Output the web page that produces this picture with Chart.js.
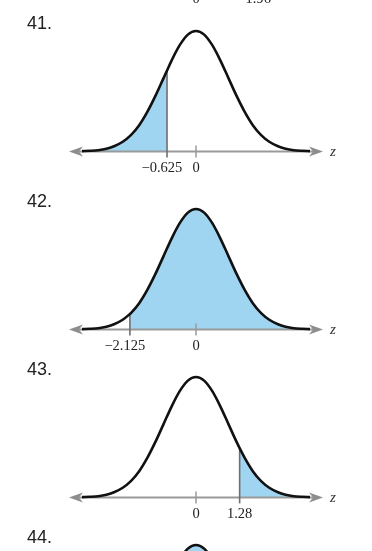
<!DOCTYPE html>
<html>
<head>
<meta charset="utf-8">
<script src="https://cdn.jsdelivr.net/npm/chart.js@4.4.1/dist/chart.umd.min.js"></script>
<style>
  body { margin: 0; background: #fff; width: 372px; height: 551px; overflow: hidden; position: relative; }
  canvas { position: absolute; left: 0; }
  .num { position: absolute; left: 27px; font: 18px/18px "Liberation Sans", Arial, sans-serif; color: #222; }
</style>
</head>
<body>
<script>
// standard normal curve
const zGrid = [-3.5, -3.25, -3, -2.75, -2.5, -2.25, -2, -1.75, -1.5, -1.25, -1, -0.75, -0.5, -0.25, 0,
               0.25, 0.5, 0.75, 1, 1.25, 1.5, 1.75, 2, 2.25, 2.5, 2.75, 3, 3.25, 3.5];
const density = [0.001, 0.002, 0.004, 0.009, 0.018, 0.032, 0.054, 0.086, 0.130, 0.183, 0.242, 0.301, 0.352, 0.387, 0.399,
                 0.387, 0.352, 0.301, 0.242, 0.183, 0.130, 0.086, 0.054, 0.032, 0.018, 0.009, 0.004, 0.002, 0.001];

const panelNames = ['40.', '41.', '42.', '43.', '44.'];
// where the cut lines sit on each curve, and the curve height there
const cutAt = [[1.91], [-0.89], [-2.03], [1.34], [-1.5, 1.5]];
const cutHeight = [[0.064], [0.268], [0.051], [0.163], [0.130, 0.130]];
const shadeFrom = [1.91, -3.5, -2.03, 1.34, -1.5];
const shadeTo = [3.5, -0.89, 3.5, 3.5, 1.5];
// tick positions and their printed labels
const tickAt = [[0, 1.91], [-0.89, 0], [-2.03, 0], [0, 1.34], [-1.5, 0, 1.5]];
const tickText = [['0', '1.96'], ['\u22120.625', '0'], ['\u22122.125', '0'], ['0', '1.28'], ['', '0', '']];

// layout: y of each horizontal axis on the page
const axisY = [-18, 151, 329, 497, 665];

const BLUE = '#9fd5f1';
const AXIS = '#9a9a9a';

function curveFor(p) {
  const pts = zGrid.map((z, k) => ({x: z, y: density[k]}));
  cutAt[p].forEach((c, k) => {
    if (!pts.some(q => Math.abs(q.x - c) < 1e-6)) pts.push({x: c, y: cutHeight[p][k]});
  });
  pts.sort((a, b) => a.x - b.x);
  return pts;
}

// negative labels hang the minus sign to the left of the tick
function tickLabel(s) {
  return s.charAt(0) === '\u2212' ? s + '\u2002\u2009' : s;
}

const axisPlugin = {
  id: 'axisPlugin',
  afterDatasetDraw(chart, args) {
    if (args.index !== 1) return;
    const ctx = chart.ctx;
    const xs = chart.scales.x;
    const ys = chart.scales.y;
    const y0 = ys.getPixelForValue(0);
    const L = chart.chartArea.left, R = chart.chartArea.right;
    const p = chart.options.plugins.axisPlugin.panel;
    ctx.save();
    // axis line
    ctx.strokeStyle = AXIS;
    ctx.lineWidth = 2;
    ctx.beginPath();
    ctx.moveTo(L + 6, y0);
    ctx.lineTo(R - 6, y0);
    ctx.stroke();
    // arrow heads
    ctx.fillStyle = '#8d8d8d';
    ctx.beginPath();
    ctx.moveTo(L, y0); ctx.lineTo(L + 14, y0 - 5); ctx.lineTo(L + 10, y0); ctx.lineTo(L + 14, y0 + 5);
    ctx.closePath(); ctx.fill();
    ctx.beginPath();
    ctx.moveTo(R, y0); ctx.lineTo(R - 14, y0 - 5); ctx.lineTo(R - 10, y0); ctx.lineTo(R - 14, y0 + 5);
    ctx.closePath(); ctx.fill();
    // tick at zero
    const x0 = xs.getPixelForValue(0);
    ctx.lineWidth = 1.5;
    ctx.beginPath();
    ctx.moveTo(x0, y0 - 6); ctx.lineTo(x0, y0 + 6);
    ctx.stroke();
    // cut lines up to the curve
    const meta = chart.getDatasetMeta(0);
    const pts = chart.data.datasets[0].data;
    ctx.strokeStyle = '#6f6f6f';
    ctx.lineWidth = 1.6;
    cutAt[p].forEach(c => {
      const el = meta.data[pts.findIndex(d => Math.abs(d.x - c) < 1e-6)];
      const xc = xs.getPixelForValue(c);
      ctx.beginPath();
      ctx.moveTo(xc, y0 + 6);
      ctx.lineTo(xc, el.y);
      ctx.stroke();
    });
    // axis name
    ctx.fillStyle = '#333';
    ctx.font = 'italic 15px "Liberation Serif", "Times New Roman", serif';
    ctx.textAlign = 'left';
    ctx.textBaseline = 'middle';
    ctx.fillText('z', R + 7, y0 + 1);
    ctx.restore();
  }
};

panelNames.forEach((name, p) => {
  const cv = document.createElement('canvas');
  cv.width = 372; cv.height = 180;
  cv.style.top = (axisY[p] - 140) + 'px';
  document.body.appendChild(cv);

  const lbl = document.createElement('div');
  lbl.className = 'num';
  lbl.textContent = name;
  lbl.style.top = (axisY[p] - 137) + 'px';
  document.body.appendChild(lbl);

  const data = curveFor(p);
  new Chart(cv.getContext('2d'), {
    type: 'line',
    data: {
      datasets: [{
        data: data,
        borderColor: '#111',
        borderWidth: 2.6,
        pointRadius: 0,
        cubicInterpolationMode: 'monotone',
        fill: false,
        clip: false,
        order: 0
      }, {
        data: data,
        borderWidth: 0,
        pointRadius: 0,
        cubicInterpolationMode: 'monotone',
        fill: 'origin',
        backgroundColor: BLUE,
        segment: {
          backgroundColor: c => (c.p0.parsed.x >= shadeFrom[p] - 1e-6 && c.p1.parsed.x <= shadeTo[p] + 1e-6) ? BLUE : 'rgba(0,0,0,0)'
        },
        clip: false,
        order: 1
      }]
    },
    options: {
      responsive: false,
      animation: false,
      devicePixelRatio: 1,
      events: [],
      layout: { padding: { left: 69, right: 49, top: 13.65, bottom: 6.2 } },
      plugins: { legend: { display: false }, tooltip: { enabled: false }, axisPlugin: { panel: p } },
      scales: {
        x: {
          type: 'linear', min: -3.9, max: 3.9,
          afterBuildTicks: axis => { axis.ticks = tickAt[p].map(v => ({value: v})); },
          grid: { display: false, drawTicks: false },
          border: { display: false },
          ticks: {
            padding: 8, maxRotation: 0, autoSkip: false, color: '#222',
            font: { family: '"Liberation Serif", "Times New Roman", serif', size: 14.5 },
            callback: (v, idx) => tickLabel(tickText[p][idx])
          }
        },
        y: { display: false, min: 0, max: 0.42 }
      }
    },
    plugins: [axisPlugin]
  });
});
</script>
</body>
</html>
